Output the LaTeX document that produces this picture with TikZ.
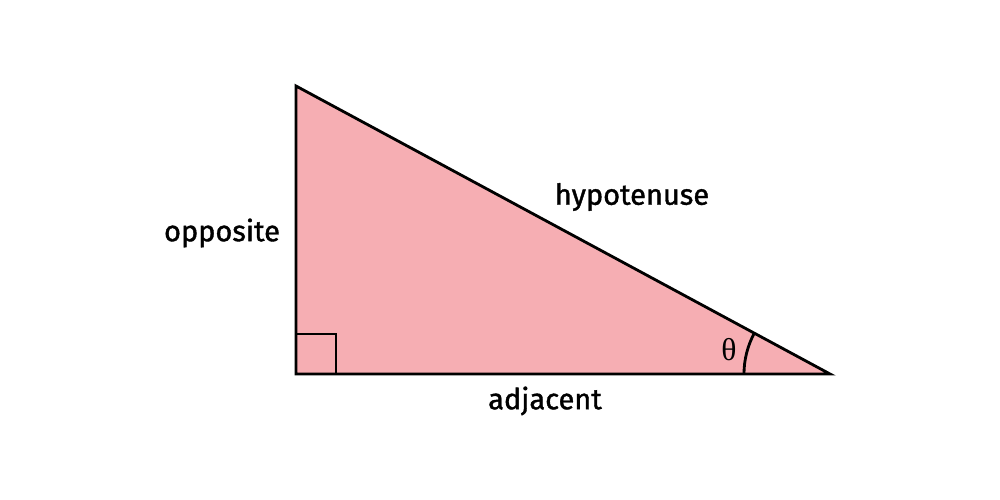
\documentclass[tikz,border=0pt]{standalone}
\usepackage{fontspec}
\setmainfont{Fira Sans}
\newfontfamily\greekfont{Liberation Serif}
\usetikzlibrary{positioning}
\definecolor{TriPink}{HTML}{F6AEB3}
\tikzset{
  side/.style={draw=black,line width=1.6pt,line join=miter},
  lbl/.style={font=\fontsize{16.5}{20}\selectfont\addfontfeature{FakeBold=1.3}}
}

\begin{document}
\begin{tikzpicture}
  \useasboundingbox (0,0) rectangle (20,10);

  \coordinate (top) at (5.92,8.28);
  \coordinate (corner) at (5.92,2.52);
  \coordinate (tip) at (16.6,2.52);

  \fill[TriPink] (corner) -- (tip) -- (top) -- cycle;

  % right angle mark
  \draw[side] (corner) ++(0,0.8) -| ++(0.8,-0.8);

  % angle at the tip
  \draw[side] (tip) ++(-1.72,0) arc (180:151.7:1.72);

  \draw[side] (corner) -- (tip) -- (top) -- cycle;

  \node[lbl] (opp) at (4.44,5.34) {opposite};
  \node[lbl] (hyp) at (12.64,6.06) {hypotenuse};
  \node[lbl] (adj) at (10.9,1.98) {adjacent};
  \node[font=\fontsize{18}{20}\selectfont\greekfont] (theta) at (14.58,3.0) {θ};

\end{tikzpicture}
\end{document}
